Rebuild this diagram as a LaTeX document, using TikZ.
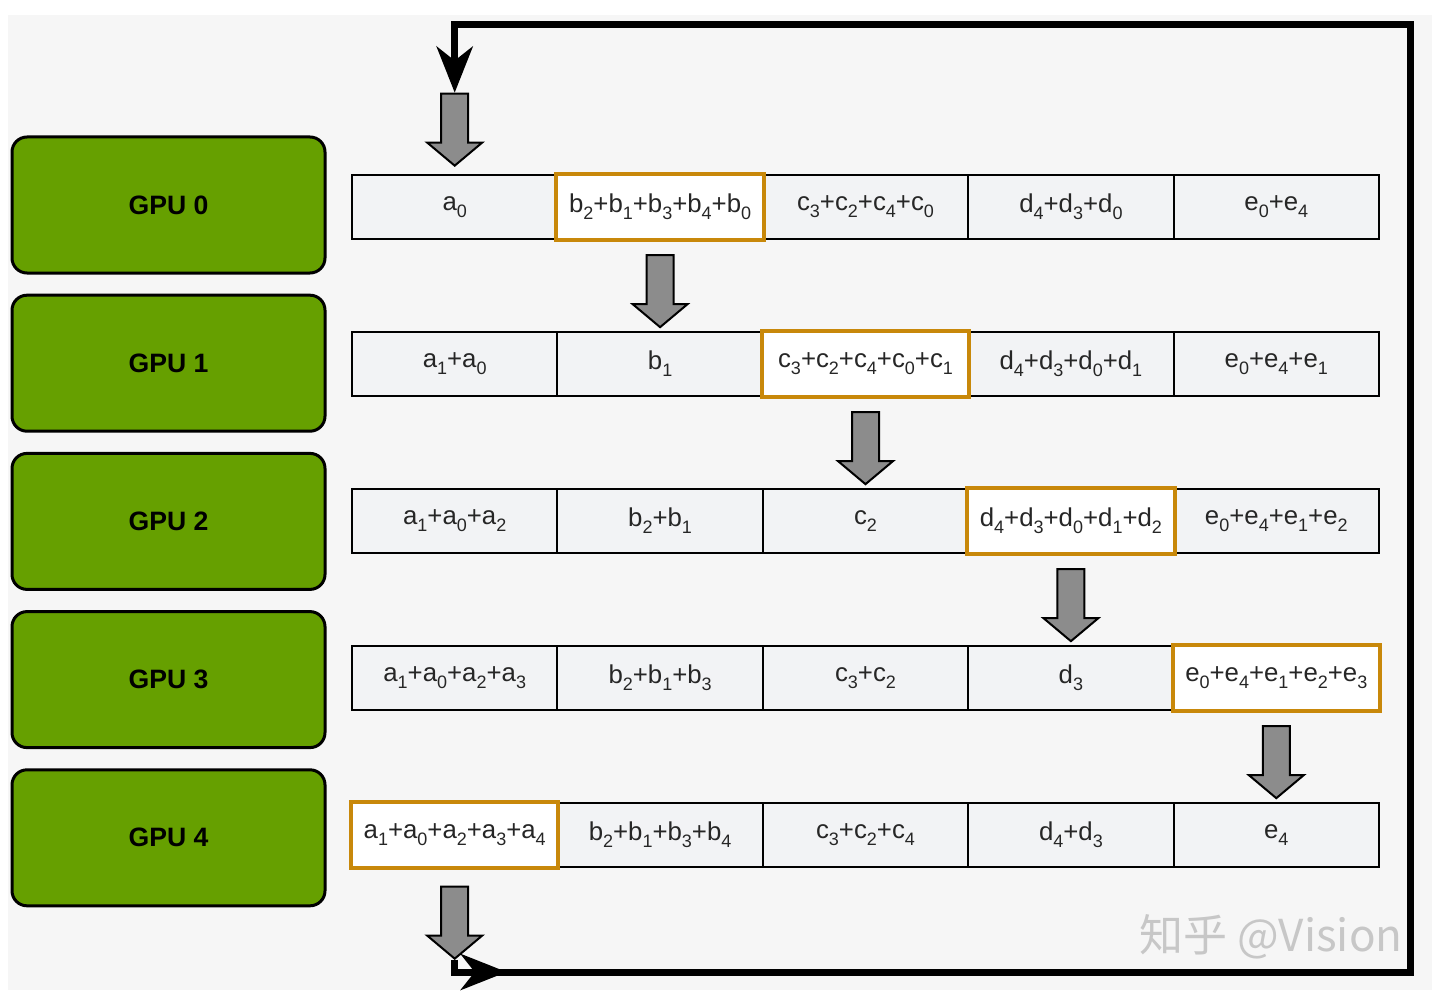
\documentclass[tikz,border=0pt]{standalone}
\usepackage{fontspec}
\setmainfont{Liberation Sans}
\newfontfamily\cjk{Noto Sans CJK SC}
\usetikzlibrary{arrows.meta,shapes.arrows,calc}
\definecolor{gpugreen}{RGB}{102,160,0}
\definecolor{cellgray}{RGB}{242,243,245}
\definecolor{panel}{RGB}{246,246,246}
\definecolor{hotorange}{RGB}{200,136,10}
\definecolor{blockgray}{RGB}{140,140,140}
\newcommand\el[2]{#1\raisebox{-3.4pt}{\fontsize{9}{9}\selectfont #2}}

\begin{document}
\begin{tikzpicture}[x=0.5pt,y=-0.5pt,
  gpu/.style={draw,line width=1.5pt,rounded corners=7.5pt,fill=gpugreen,minimum width=156.5pt,minimum height=68pt,font=\fontsize{13.3}{16}\selectfont\bfseries},
  cell/.style={draw,line width=1pt,inner sep=0pt,minimum width=102.7pt,minimum height=32pt,font=\fontsize{12.9}{15}\selectfont,text=black!85},
  hot/.style={draw=hotorange,line width=2pt},
  pass/.style={single arrow,draw,line width=1pt,fill=blockgray,rotate=-90,inner xsep=0pt,inner ysep=6.25pt,text height=0pt,text depth=0pt,single arrow head extend=7pt,single arrow tip angle=100,minimum height=36pt},
  ring/.style={line width=3.5pt,line join=miter},
  tip/.style={-{Stealth[length=23pt,width=18pt,inset=7pt]}}]
\useasboundingbox (0,0) rectangle (1440,995);
\fill[panel] (8,15) rectangle (1432,990);
% GPUs
\foreach \r in {0,...,4}{\node[gpu] (gpu\r) at (168.5,{205+158.2*\r}) {GPU \r};};
% buffers
\foreach [count=\r from 0] \row in {
  {\el a0, \el b2+\el b1+\el b3+\el b4+\el b0, \el c3+\el c2+\el c4+\el c0, \el d4+\el d3+\el d0, \el e0+\el e4},
  {\el a1+\el a0, \el b1, \el c3+\el c2+\el c4+\el c0+\el c1, \el d4+\el d3+\el d0+\el d1, \el e0+\el e4+\el e1},
  {\el a1+\el a0+\el a2, \el b2+\el b1, \el c2, \el d4+\el d3+\el d0+\el d1+\el d2, \el e0+\el e4+\el e1+\el e2},
  {\el a1+\el a0+\el a2+\el a3, \el b2+\el b1+\el b3, \el c3+\el c2, \el d3, \el e0+\el e4+\el e1+\el e2+\el e3},
  {\el a1+\el a0+\el a2+\el a3+\el a4, \el b2+\el b1+\el b3+\el b4, \el c3+\el c2+\el c4, \el d4+\el d3, \el e4}}{
  \pgfmathtruncatemacro\hc{mod(\r+1,5)}
  \foreach [count=\c from 0] \txt in \row {
    \ifnum\c=\hc \def\cf{white}\else\def\cf{cellgray}\fi
    \node[cell,fill=\cf] (c\r\c) at ({454.7+205.4*\c},{207+157*\r}) {\txt};};};
% the chunk that is sent on
\foreach \r in {0,...,4}{\pgfmathtruncatemacro\hc{mod(\r+1,5)}
  \draw[hot] (c\r\hc.north west) rectangle (c\r\hc.south east);};
\foreach \r/\s/\c in {0/1/1,1/2/2,2/3/3,3/4/4}{
  \node[pass] (p\r) at ($(c\r\c.south)!0.5!(c\s\c.north)$) {};};
\node[pass] (pin) at ($(c00.north)+(0,-50)$) {};
\node[pass] (pout) at ($(c40.south)+(0,49)$) {};
% ring back to GPU 0
\coordinate (se) at (1410,972);
\coordinate (ne) at (1410,25);
\draw[ring,tip] (pout.tip) |- (se) -- (ne) -| (pin.tail);
\draw[ring,tip] (pout.tip |- se) -- ++(52,0);
\node[text=black!22,font=\cjk\fontsize{22}{26}\selectfont] (mark) at (1271,937) {知乎 @Vision};
\end{tikzpicture}
\end{document}
